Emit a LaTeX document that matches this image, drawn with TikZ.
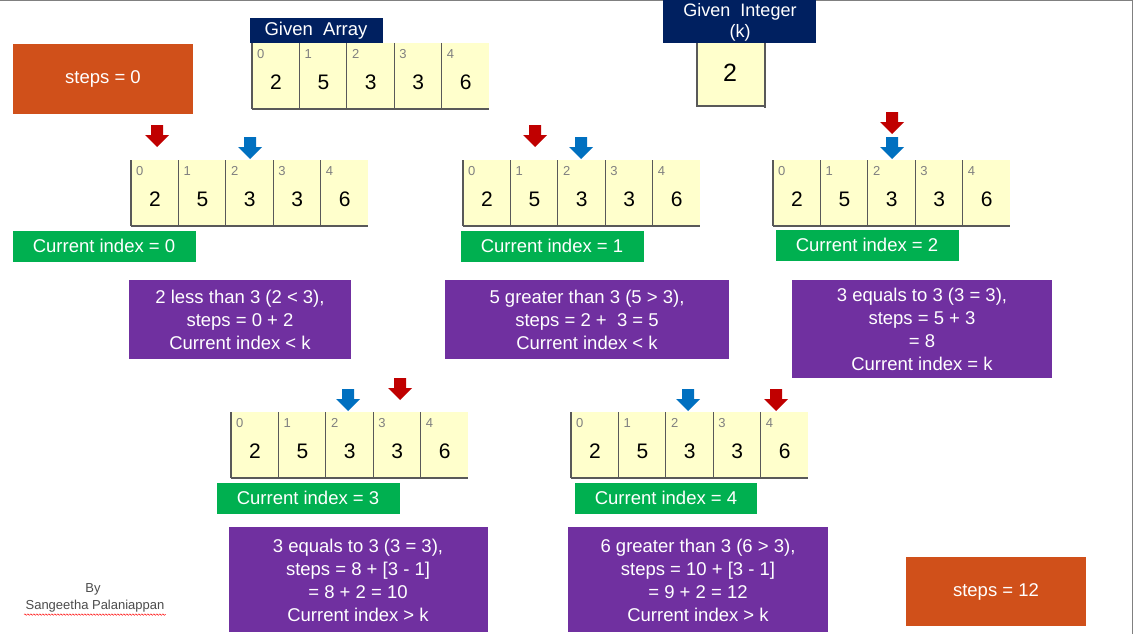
\documentclass[tikz,border=0pt]{standalone}
\usepackage{fontspec}
\setmainfont{Liberation Sans}
\usetikzlibrary{decorations.pathmorphing}
\definecolor{navy}{HTML}{002060}
\definecolor{orng}{HTML}{D0501A}
\definecolor{grn}{HTML}{00B050}
\definecolor{purp}{HTML}{7030A0}
\definecolor{cellbg}{HTML}{FFFFCC}
\definecolor{ared}{HTML}{C00000}
\definecolor{ablue}{HTML}{0070C0}
\tikzset{
  box/.style={inner sep=0pt,text=white,align=center,font=\fontsize{18.5}{23}\selectfont},
  idx/.style={text=gray,font=\fontsize{13}{13}\selectfont,anchor=north west,inner sep=0pt},
  val/.style={font=\fontsize{21}{21}\selectfont,inner sep=0pt},
}
\newcommand{\arr}[3]{% name, x, y (top-left)
  \fill[cellbg] (#2,#3) rectangle ++(237,66);
  \foreach \v [count=\i from 0] in {2,5,3,3,6}{
    \draw[gray!70!black,line width=1.2pt] ({#2+\i*47.4},#3) -- ++(0,66);
    \node[idx] (#1i\i) at ({#2+\i*47.4+5},{#3+6}) {\i};
    \node[val] (#1v\i) at ({#2+\i*47.4+24},{#3+39}) {\v};
  }
  \draw[gray!70!black,line width=1.2pt] (#2,{#3+66}) -- ++(237,0);
}
\newcommand{\darrow}[3]{% color x ytop
  \fill[#1] ({#2-6},#3) -- ({#2+6},#3) -- ({#2+6},{#3+10}) -- ({#2+12},{#3+10}) -- (#2,{#3+22}) -- ({#2-12},{#3+10}) -- ({#2-6},{#3+10}) -- cycle;
}
\begin{document}
\begin{tikzpicture}[x=1pt,y=-1pt]
\useasboundingbox (0,0) rectangle (1133,634);
\fill[white] (0,0) rectangle (1133,634);
\draw[gray,line width=1pt] (0,1) -- (1132,1) -- (1132,634);
% given
\arr{g}{252}{43}
\fill[navy] (250,18) rectangle (383,43);
\node[box] (ga) at (316,31) {Given\ \ Array};
\fill[cellbg] (697,40) rectangle (765,106);
\draw[gray!70!black,line width=1.2pt] (697,40) -- (697,106) -- (765,106);
\draw[gray!70!black,line width=1.2pt] (765,40) -- (765,108);
\node[val,font=\fontsize{25}{25}\selectfont] (kv) at (730,73) {2};
\fill[navy] (663,0) rectangle (816,43);
\node[box,font=\fontsize{18}{21}\selectfont] (gi) at (740,22) {Given\ \ Integer\\(k)};
\fill[orng] (13,44) rectangle (193,114);
\node[box] (s0) at (103,79) {steps = 0};
\fill[orng] (906,557) rectangle (1086,626);
\node[box] (s12) at (996,592) {steps = 12};
% arrays
\arr{a}{131}{160}
\arr{b}{463}{160}
\arr{c}{773}{160}
\arr{d}{231}{412}
\arr{e}{571}{412}
% arrows
\darrow{ared}{157}{125}\darrow{ablue}{250}{137}
\darrow{ared}{535}{125}\darrow{ablue}{581}{137}
\darrow{ared}{892}{112}\darrow{ablue}{892}{137}
\darrow{ablue}{348}{389}\darrow{ared}{400}{378}
\darrow{ablue}{688}{389}\darrow{ared}{776}{389}
% green
\fill[grn] (13,231) rectangle (196,262); \node[box] (c0) at (104,246) {Current index = 0};
\fill[grn] (461,231) rectangle (644,262); \node[box] (c1) at (552,246) {Current index = 1};
\fill[grn] (776,230) rectangle (959,261); \node[box] (c2) at (867,245) {Current index = 2};
\fill[grn] (217,483) rectangle (400,514); \node[box] (c3) at (308,498) {Current index = 3};
\fill[grn] (575,483) rectangle (757,514); \node[box] (c4) at (666,498) {Current index = 4};
% purple
\fill[purp] (129,280) rectangle (351,359); \node[box] (p1) at (240,320) {2 less than 3 (2 < 3),\\steps = 0 + 2\\Current index < k};
\fill[purp] (445,280) rectangle (729,359); \node[box] (p2) at (587,320) {5 greater than 3 (5 > 3),\\steps = 2 +\ \ 3 = 5\\Current index < k};
\fill[purp] (792,280) rectangle (1052,378); \node[box] (p3) at (922,329) {3 equals to 3 (3 = 3),\\steps = 5 + 3\\= 8\\Current index = k};
\fill[purp] (229,527) rectangle (488,632); \node[box] (p4) at (358,580) {3 equals to 3 (3 = 3),\\steps = 8 + [3 - 1]\\= 8 + 2 = 10\\Current index > k};
\fill[purp] (568,527) rectangle (828,632); \node[box] (p5) at (698,580) {6 greater than 3 (6 > 3),\\steps = 10 + [3 - 1]\\= 9 + 2 = 12\\Current index > k};
% author
\node[text=gray!60!black,font=\fontsize{13}{13}\selectfont] (by) at (93,589) {By};
\node[text=gray!60!black,font=\fontsize{13}{13}\selectfont] (nm) at (95,606) {Sangeetha Palaniappan};
\draw[red,decorate,decoration={zigzag,amplitude=0.8pt,segment length=3pt}] (nm.south west) ++(2,-1) -- ([xshift=-2pt,yshift=1pt]nm.south east);
\end{tikzpicture}
\end{document}
